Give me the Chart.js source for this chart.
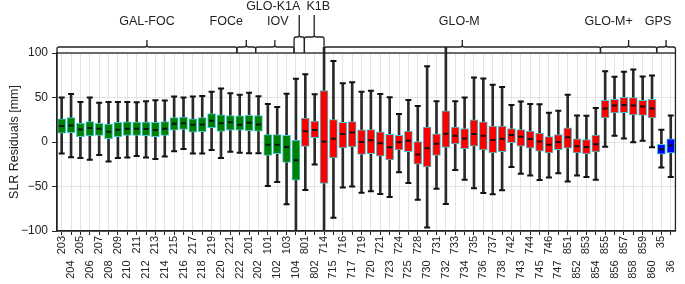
<!DOCTYPE html>
<html>
<head>
<meta charset="utf-8">
<script src="https://cdn.jsdelivr.net/npm/chart.js@4.4.1/dist/chart.umd.min.js"></script>
<style>
  html,body{margin:0;padding:0;background:#fff}
  #wrap{width:685px;height:284px;position:relative}
</style>
</head>
<body>
<div id="wrap"><canvas id="slr"></canvas></div>
<script>
/* ===== Data ===== */
const SATS = ['203','204','205','206','207','208','209','210','211','212','213','214','215','216','217','218','219','220','221','222',
  '201','202','101','102','103','104','801','802',
  '714','715','716','717','719','720','721','723','724','725','728','730','731','732','733','734','735','736','737','738',
  '742','743','744','745','746','747','851','852','853','854',
  '855','856','857','858','859','860','35','36'];

// whisker ends (values outside -100..100 run off the plot)
const LOW  = [-13,-17,-18,-20,-14.5,-22,-18,-17.5,-15.6,-17.5,-19,-16.4,-10.4,-8,-13,-13,-9,-18,-11,-12,
  -12.6,-12.6,-49.5,-45,-70,-120,-54,-25.3,
  -120,-85,-51,-50,-57,-55.4,-58.4,-61.8,-34,-46,-65,-96,-52.5,-69.6,-31.6,-42.4,-52,-57.3,-58.8,-54.3,
  -28,-35.7,-37.6,-42.8,-40,-35,-44.3,-37.6,-39.4,-42.4,
  -5.2,7,4,-0.4,1.5,-6,-28.6,-39.4];
const Q1   = [10,10.4,6,6.7,7.4,3.7,6,7.4,7.4,7,6,7.4,13.4,14,11,11.5,16,12,13.4,13.4,
  12.6,12.3,-15,-13,-23,-43,-5,4.8,
  -46.5,-17.9,-6.7,-5.6,-14,-13,-16,-20,-9,-10.8,-25,-28,-15,-6,-2.2,-7.4,-4.8,-9,-12.3,-10.8,
  -0.7,-4.8,-7,-10.4,-12.3,-8.6,-7,-12.3,-13.4,-11.2,
  27,32.7,33,30.5,29.8,27,-13.8,-12.3];
const MEDIAN = [18,18.6,14,15.6,15,11.5,13.8,15,15,14.5,13.4,15,20.5,21,19.3,19.7,23.8,21,22.3,19.3,
  21.6,19.7,-3,-3,-5.6,-20.5,12,13.4,
  0.7,3.7,9,10.8,0,1.9,-1.5,-6,-0.4,1.5,-14,-7,-1.9,9.3,7,4,9,7,2.2,3.7,
  7.8,6,3.3,0.7,-3,0,5.2,-4.8,-5.6,-2.6,
  37.6,41,41.7,41,39.8,37.6,-8.2,-4];
const Q3   = [26,27.5,21,23,21,20,22,22.7,22.3,22.3,22,23,27.5,28,26,27.5,32,30.5,29.8,29.4,
  30,29.8,8.2,8.2,7.4,1.9,27,23.4,
  57.7,25.3,22,23,13.8,14,11.5,8.6,7.4,12.3,0.4,16.7,9.3,35,16.7,15,25,22.7,17.9,17.9,
  15,14,12.3,10,6,8.2,16,3.7,2.6,7.8,
  46.9,48,50.2,49.8,46.9,48,-2.6,3.7];
const HIGH = [50,54,45,50,44,45,45,45,44.6,45.8,47,46.5,51,50,51,51.7,56.5,60,54.7,53,
  55.4,51.3,42.8,39.4,54.3,71,76,53.6,
  120,91,66,67,56.5,57.7,54,50.2,31.6,47.2,40.5,85,45.8,120,45.8,50,72.5,71.4,64.4,61.8,
  41.7,45.4,42.8,42.4,33,35,53.2,29.8,29.4,38.3,
  79.6,73.3,78.9,81.5,73.7,74.8,13.8,29.8];

// constellation of each satellite
const SYSTEM = SATS.map((s,i) => i < 26 ? 'GAL' : i < 64 ? 'GLO' : 'GPS');

// groups marked with braces above the plot (span in category units)
const GROUPS     = ['GAL-FOC','FOCe','IOV','GLO-K1A','K1B','GLO-M','GLO-M+','GPS'];
const GROUP_FROM = [-0.5,18.7,20.7,24.8,25.9,28,57.5,63.5];
const GROUP_TO   = [18.7,20.7,24.8,25.9,28,57.5,63.5,65.5];

/* ===== Style ===== */
const FILL = {GAL:'#008000', GLO:'#ff0000', GPS:'#0000ff'};
const EDGE = '#45c8d2';
const INK = '#222';
const FONT = '"Liberation Sans", Arial, Helvetica, sans-serif';
const RAISED = [false,false,false,true,true,false,false,false];
const LABEL_DX = [0,-20,3,-26,4,-3,-20,-8];

const inRange = v => (v >= -100 && v <= 100) ? v : null;

const braces = {
  id:'braces',
  afterDraw(chart){
    const {ctx:c, chartArea:{left,right,top,bottom}, scales:{x}} = chart;
    c.save();
    c.strokeStyle = INK;
    c.lineWidth = 1.3;
    c.strokeRect(left, top, right-left, bottom-top);
    c.font = '12.5px ' + FONT;
    c.fillStyle = INK;
    c.textAlign = 'center';
    c.textBaseline = 'middle';
    GROUPS.forEach((g,i) => {
      const x0 = x.getPixelForValue(GROUP_FROM[i]);
      const x1 = x.getPixelForValue(GROUP_TO[i]);
      const xm = (x0+x1)/2;
      const yb = RAISED[i] ? top-16 : top-6;
      const yt = RAISED[i] ? 15 : 40;
      const r = 2;
      c.beginPath();
      c.moveTo(x0, top);
      c.lineTo(x0, yb+r);
      c.quadraticCurveTo(x0, yb, x0+r, yb);
      c.lineTo(xm-r, yb);
      c.quadraticCurveTo(xm, yb, xm, yb-r);
      c.lineTo(xm, yt);
      c.moveTo(xm, yb-r);
      c.quadraticCurveTo(xm, yb, xm+r, yb);
      c.lineTo(x1-r, yb);
      c.quadraticCurveTo(x1, yb, x1, yb+r);
      c.lineTo(x1, top);
      c.stroke();
      c.fillText(g, xm + LABEL_DX[i], RAISED[i] ? 7 : 22);
    });
    c.restore();
  }
};

const capStyle = {type:'line', showLine:false, pointStyle:'line', pointRadius:3, pointBorderWidth:2,
  pointBorderColor:'#111', pointBackgroundColor:'#111', order:1};

new Chart(document.getElementById('slr'), {
  type:'bar',
  plugins:[braces],
  data:{
    labels:SATS,
    datasets:[
      {label:'whisker', data:SATS.map((s,i)=>[LOW[i],HIGH[i]]), backgroundColor:'#2a2a2a', barThickness:2,
       grouped:false, order:4, clip:{left:false,right:false,top:6,bottom:0}},
      {label:'box', data:SATS.map((s,i)=>[Q1[i],Q3[i]]), backgroundColor:SYSTEM.map(k=>FILL[k]),
       borderColor:EDGE, borderWidth:1, borderSkipped:false, barThickness:8, grouped:false, order:3},
      {...capStyle, label:'median', data:MEDIAN, pointRadius:2.5},
      {...capStyle, label:'capHi', data:HIGH.map(inRange)},
      {...capStyle, label:'capLo', data:LOW.map(inRange)},
    ]
  },
  options:{
    responsive:true, maintainAspectRatio:false, animation:false,
    layout:{padding:{top:53,right:1,left:0,bottom:0}},
    plugins:{legend:{display:false}, tooltip:{enabled:false}},
    scales:{
      x:{
        offset:true,
        grid:{offset:false, color:'#e4e4e4', tickColor:INK, tickLength:4, drawOnChartArea:true},
        border:{color:INK, width:1.3},
        ticks:{autoSkip:false, minRotation:90, maxRotation:90, padding:1, color:INK,
          font:{size:11, family:FONT},
          callback:(v,i)=> i%2 ? SATS[i]+'        ' : SATS[i]},
        afterFit(s){ s.height = 53; }
      },
      y:{
        min:-100, max:100,
        grid:{color:'#e4e4e4', tickColor:INK, tickLength:5},
        border:{color:INK, width:1.3},
        ticks:{stepSize:50, padding:4, color:INK, font:{size:12, family:FONT},
          callback:v=> v<0 ? '\u2212'+Math.abs(v) : ''+v},
        title:{display:true, text:'SLR Residuals [mm]', color:INK, font:{size:12.5, family:FONT}, padding:{top:7,bottom:0}},
        afterFit(s){ s.width = 57; }
      }
    }
  }
});
</script>
</body>
</html>
